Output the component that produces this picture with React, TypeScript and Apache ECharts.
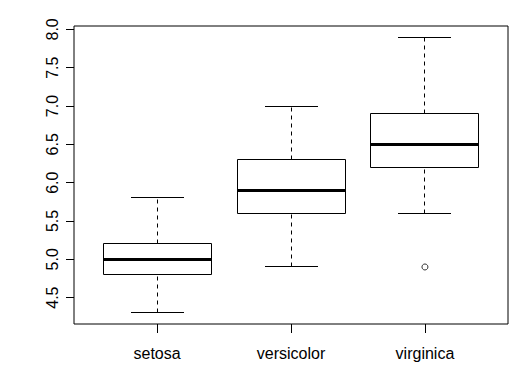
import React, { useEffect, useRef } from "react";
import * as echarts from "echarts";

const categories = ["setosa", "versicolor", "virginica"];
const whiskerLow = [4.3, 4.9, 5.6];
const q1 = [4.8, 5.6, 6.2];
const median = [5.0, 5.9, 6.5];
const q3 = [5.2, 6.3, 6.9];
const whiskerHigh = [5.8, 7.0, 7.9];
const outliers: [number, number][] = [[3, 4.9]];
const yTicks = [4.5, 5.0, 5.5, 6.0, 6.5, 7.0, 7.5, 8.0];

export default function App() {
  const ref = useRef<HTMLDivElement>(null);
  useEffect(() => {
    if (!ref.current) return;
    const chart = echarts.init(ref.current, null, { renderer: "svg" });
    const boxData = categories.map((_, i) => [
      i + 1,
      whiskerLow[i],
      q1[i],
      median[i],
      q3[i],
      whiskerHigh[i],
    ]);
    const font = "Liberation Sans, Arial, sans-serif";
    const h = (v: number) => Math.round(v - 0.5) + 0.5;
    chart.setOption({
      animation: false,
      backgroundColor: "#ffffff",
      grid: {
        left: 74,
        top: 26,
        right: 23,
        bottom: 62,
        show: true,
        borderColor: "#000",
        borderWidth: 1,
        backgroundColor: "transparent",
      },
      xAxis: {
        type: "value",
        min: 0.38,
        max: 3.62,
        splitLine: { show: false },
        axisLine: { show: false },
        axisTick: {
          show: true,
          inside: false,
          length: 9,
          lineStyle: { color: "#000", width: 1 },
          customValues: [1, 2, 3],
        },
        axisLabel: {
          show: true,
          customValues: [1, 2, 3],
          formatter: (v: number) => categories[Math.round(v) - 1] ?? "",
          color: "#000",
          fontSize: 16,
          fontFamily: font,
          margin: 21,
        },
      },
      yAxis: {
        type: "value",
        min: 4.156,
        max: 8.044,
        splitLine: { show: false },
        axisLine: { show: false },
        axisTick: {
          show: true,
          inside: false,
          length: 8,
          lineStyle: { color: "#000", width: 1 },
          customValues: yTicks,
        },
        axisLabel: {
          show: true,
          customValues: yTicks,
          formatter: (v: number) => v.toFixed(1),
          rotate: 90,
          color: "#000",
          fontSize: 16,
          fontFamily: font,
          margin: 14,
        },
      },
      series: [
        {
          type: "custom",
          data: boxData,
          renderItem: (params: any, api: any) => {
            const x = api.value(0);
            const lo = api.coord([x, api.value(1)]);
            const b1 = api.coord([x, api.value(2)]);
            const md = api.coord([x, api.value(3)]);
            const b3 = api.coord([x, api.value(4)]);
            const hi = api.coord([x, api.value(5)]);
            const boxW = api.size([0.8, 0])[0];
            const capW = api.size([0.4, 0])[0];
            const cx = h(lo[0]);
            const yl = h(lo[1]);
            const y1 = h(b1[1]);
            const y3 = h(b3[1]);
            const yh = h(hi[1]);
            const bl = h(cx - boxW / 2);
            const br = h(cx + boxW / 2);
            const cl = Math.round(cx - capW / 2);
            const cr = Math.round(cx + capW / 2);
            const ym = h(md[1]);
            const solid = { stroke: "#000", lineWidth: 1, fill: "none" };
            const dashed = { stroke: "#000", lineWidth: 1, lineDash: [4, 4] };
            return {
              type: "group",
              children: [
                {
                  type: "line",
                  shape: { x1: cx, y1: yl, x2: cx, y2: y1 },
                  style: dashed,
                },
                {
                  type: "line",
                  shape: { x1: cx, y1: y3, x2: cx, y2: yh },
                  style: dashed,
                },
                {
                  type: "line",
                  shape: { x1: cl, y1: yl, x2: cr, y2: yl },
                  style: solid,
                },
                {
                  type: "line",
                  shape: { x1: cl, y1: yh, x2: cr, y2: yh },
                  style: solid,
                },
                {
                  type: "rect",
                  shape: { x: bl, y: y3, width: br - bl, height: y1 - y3 },
                  style: { stroke: "#000", lineWidth: 1, fill: "#fff" },
                },
                {
                  type: "line",
                  shape: { x1: bl, y1: ym, x2: br, y2: ym },
                  style: { stroke: "#000", lineWidth: 3 },
                },
              ],
            };
          },
        },
        {
          type: "scatter",
          data: outliers,
          symbol: "circle",
          symbolSize: 6,
          itemStyle: { color: "#fff", borderColor: "#000", borderWidth: 1 },
        },
      ],
    });
    return () => chart.dispose();
  }, []);
  return (
    <div
      ref={ref}
      style={{ position: "fixed", left: 0, top: 0, width: 531, height: 386, background: "#fff" }}
    />
  );
}
